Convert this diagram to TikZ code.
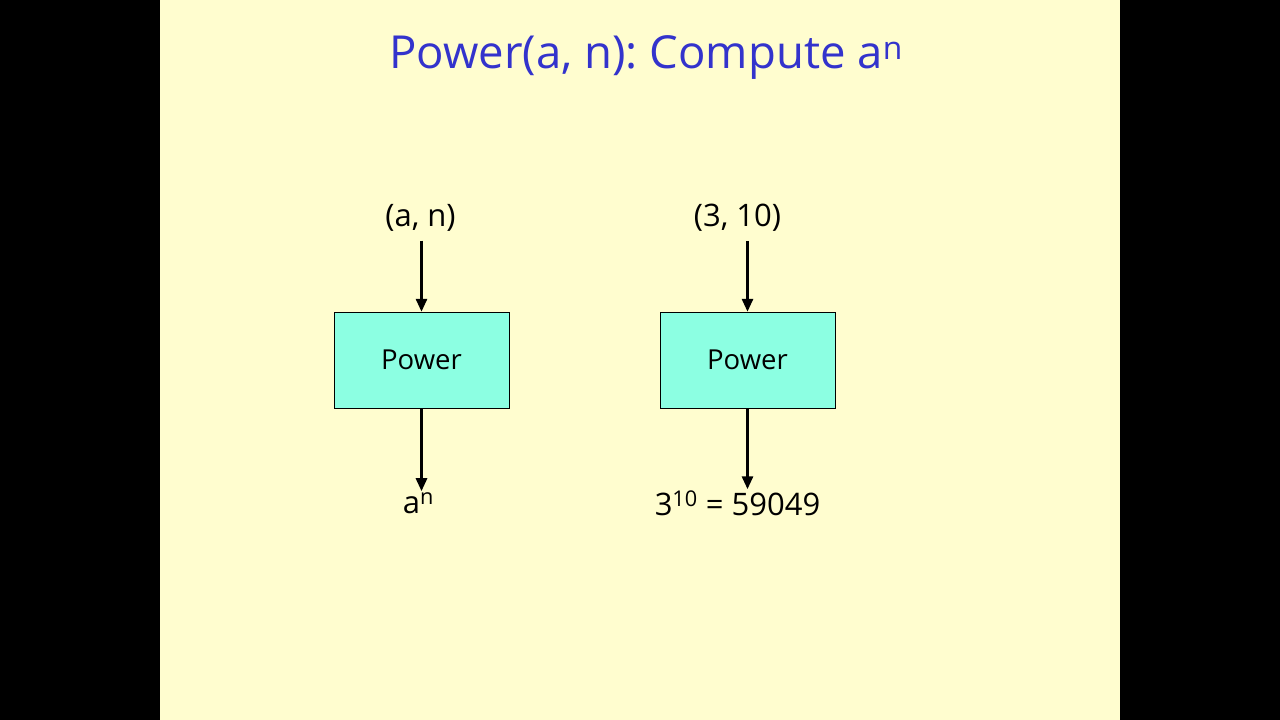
\documentclass[tikz,border=0pt]{standalone}
\usepackage{fontspec}
\setmainfont{Open Sans}
\usepackage{xcolor}
\usetikzlibrary{arrows.meta,positioning}
\frenchspacing
\definecolor{slide}{RGB}{255,253,207}
\definecolor{titleblue}{RGB}{51,51,204}
\definecolor{aqua}{RGB}{140,255,226}
\tikzset{%
	block/.style    = {draw, thin, fill=aqua, rectangle, minimum height = 96pt, minimum width = 175pt, font=\fontsize{27.5}{32}\selectfont}, % Power box
	input/.style    = {rectangle, inner sep=2pt, font=\fontsize{31}{36}\selectfont}, % Arguments
	output/.style   = {rectangle, inner sep=1pt, font=\fontsize{31}{36}\selectfont}, % Result
	heading/.style  = {text=titleblue, font=\fontsize{45.5}{52}\selectfont}, % Title
	flow/.style     = {line width=2.8pt, -{Triangle[length=13pt,width=11pt]}},
}
\begin{document}
\begin{tikzpicture}[x=1pt, y=1pt, node distance = 142pt]
	\fill[black] (0,0) rectangle (1280,720);
	\fill[slide] (160,0) rectangle (1120,720);
	\node[heading] (title) at (646,662) {Power(a, n): Compute a\textsuperscript{n}};
	% general case
	\node[block] (pow) at (421.5,360) {Power};
	\node[input, above of=pow, xshift=-1pt] (in) {(a, n)};
	\node[output, below of=pow, node distance=143pt, xshift=-3pt] (out) {a\textsuperscript{n}};
	% example
	\node[block, right of=pow, node distance=326pt] (pow2) {Power};
	\node[input, above of=pow2, xshift=-10pt] (in2) {(3, 10)};
	\node[output, below of=pow2, node distance=143pt, xshift=-10pt] (out2) {3\textsuperscript{10} = 59049};
	\draw[flow, shorten <=7pt] (pow |- in.south) -- (pow);
	\draw[flow] (pow) -- (pow |- out.north);
	\draw[flow, shorten <=7pt] (pow2 |- in2.south) -- (pow2);
	\draw[flow] (pow2) -- (pow2 |- out2.north);
\end{tikzpicture}
\end{document}
